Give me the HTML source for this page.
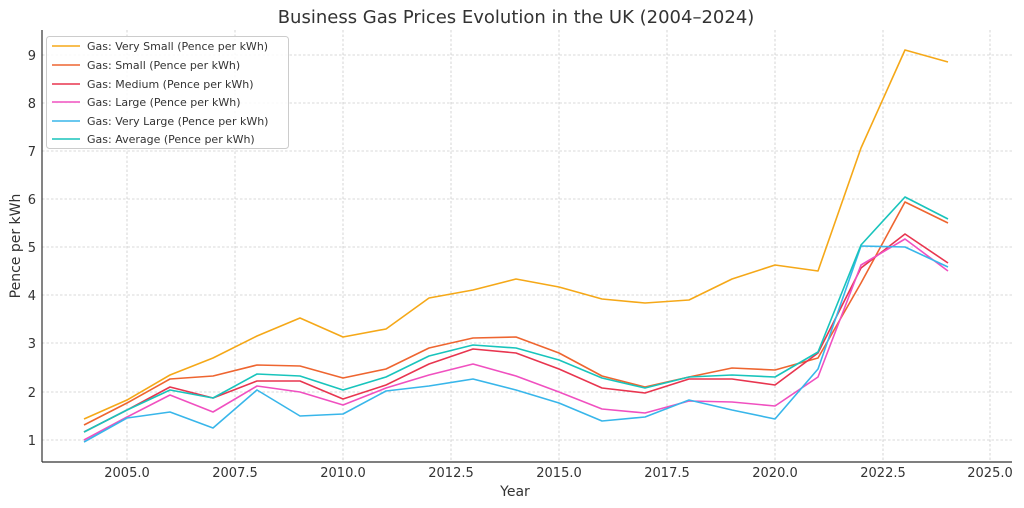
<!DOCTYPE html>
<html><head><meta charset="utf-8"><style>
body{margin:0;background:#fff}
svg{display:block;font-family:"DejaVu Sans","Liberation Sans",sans-serif}
</style></head><body>
<svg width="1024" height="508" viewBox="0 0 1024 508">
<rect width="1024" height="508" fill="#fff"/>
<g stroke="#cccccc" stroke-width="0.8" stroke-dasharray="2.5,2">
<line x1="127" y1="30" x2="127" y2="462"/><line x1="235" y1="30" x2="235" y2="462"/><line x1="343" y1="30" x2="343" y2="462"/><line x1="451" y1="30" x2="451" y2="462"/><line x1="559" y1="30" x2="559" y2="462"/><line x1="667" y1="30" x2="667" y2="462"/><line x1="775" y1="30" x2="775" y2="462"/><line x1="883" y1="30" x2="883" y2="462"/><line x1="990" y1="30" x2="990" y2="462"/>
<line x1="42" y1="440" x2="1012" y2="440"/><line x1="42" y1="392" x2="1012" y2="392"/><line x1="42" y1="343" x2="1012" y2="343"/><line x1="42" y1="295" x2="1012" y2="295"/><line x1="42" y1="247" x2="1012" y2="247"/><line x1="42" y1="199" x2="1012" y2="199"/><line x1="42" y1="151" x2="1012" y2="151"/><line x1="42" y1="103" x2="1012" y2="103"/><line x1="42" y1="55" x2="1012" y2="55"/>
</g>
<g stroke="#333" stroke-width="1.2"><line x1="42" y1="30" x2="42" y2="462"/><line x1="42" y1="462" x2="1012" y2="462"/></g>
<g font-size="13" fill="#333" text-anchor="middle">
<text x="127" y="477">2005.0</text><text x="235" y="477">2007.5</text><text x="343" y="477">2010.0</text><text x="451" y="477">2012.5</text><text x="559" y="477">2015.0</text><text x="667" y="477">2017.5</text><text x="775" y="477">2020.0</text><text x="883" y="477">2022.5</text><text x="990" y="477">2025.0</text>
</g>
<g font-size="13" fill="#333" text-anchor="end">
<text x="36" y="445">1</text><text x="36" y="397">2</text><text x="36" y="348">3</text><text x="36" y="300">4</text><text x="36" y="252">5</text><text x="36" y="204">6</text><text x="36" y="156">7</text><text x="36" y="108">8</text><text x="36" y="60">9</text>
</g>
<text x="515" y="496" font-size="14" fill="#333" text-anchor="middle">Year</text>
<text transform="translate(20,246) rotate(-90)" font-size="14" fill="#333" text-anchor="middle">Pence per kWh</text>
<text x="516" y="23" font-size="18" fill="#333" text-anchor="middle">Business Gas Prices Evolution in the UK (2004–2024)</text>
<g fill="none" stroke-width="1.6" stroke-linejoin="round">
<polyline stroke="#f5a818" points="84,419 127,400 170,375 213,358 257,336 300,318 343,337 386,329 429,298 473,290 516,279 559,287 602,299 645,303 689,300 732,279 775,265 818,271 861,148 905,50 948,62"/>
<polyline stroke="#ee6530" points="84,425 127,403 170,379 213,376 257,365 300,366 343,378 386,369 429,348 473,338 516,337 559,353 602,376 645,387 689,377 732,368 775,370 818,358 861,283 905,202 948,223"/>
<polyline stroke="#e8354f" points="84,432 127,410 170,387 213,398 257,381 300,381 343,399 386,385 429,364 473,349 516,353 559,369 602,388 645,393 689,379 732,379 775,385 818,353 861,268 905,234 948,263"/>
<polyline stroke="#f050c0" points="84,440 127,417 170,395 213,412 257,386 300,392 343,405 386,388 429,375 473,364 516,376 559,392 602,409 645,413 689,401 732,402 775,406 818,377 861,265 905,239 948,271"/>
<polyline stroke="#38b6ea" points="84,442 127,418 170,412 213,428 257,390 300,416 343,414 386,391 429,386 473,379 516,390 559,403 602,421 645,417 689,400 732,410 775,419 818,369 861,246 905,247 948,267"/>
<polyline stroke="#18c4bc" points="84,432 127,410 170,390 213,398 257,374 300,376 343,390 386,377 429,356 473,345 516,348 559,360 602,378 645,388 689,377 732,375 775,377 818,352 861,245 905,197 948,219"/>
</g>
<rect x="46.5" y="36.5" width="242" height="112" rx="3" fill="#fff" fill-opacity="0.85" stroke="#ccc"/>
<g stroke-width="1.6">
<line x1="52" y1="46" x2="80" y2="46" stroke="#f5a818"/>
<line x1="52" y1="65" x2="80" y2="65" stroke="#ee6530"/>
<line x1="52" y1="84" x2="80" y2="84" stroke="#e8354f"/>
<line x1="52" y1="102" x2="80" y2="102" stroke="#f050c0"/>
<line x1="52" y1="121" x2="80" y2="121" stroke="#38b6ea"/>
<line x1="52" y1="139" x2="80" y2="139" stroke="#18c4bc"/>
</g>
<g font-size="11" fill="#333">
<text x="87" y="50">Gas: Very Small (Pence per kWh)</text>
<text x="87" y="69">Gas: Small (Pence per kWh)</text>
<text x="87" y="88">Gas: Medium (Pence per kWh)</text>
<text x="87" y="106">Gas: Large (Pence per kWh)</text>
<text x="87" y="125">Gas: Very Large (Pence per kWh)</text>
<text x="87" y="143">Gas: Average (Pence per kWh)</text>
</g>
</svg>
</body></html>
